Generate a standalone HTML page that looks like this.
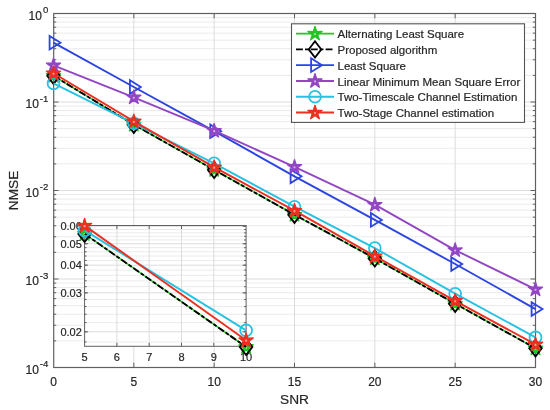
<!DOCTYPE html><html><head><meta charset="utf-8"><style>html,body{margin:0;padding:0;background:#fff;}svg{display:block;}text{font-family:"Liberation Sans",Arial,Helvetica,sans-serif;fill:#262626;stroke:#262626;stroke-width:0.2px;}</style></head><body>
<svg width="550" height="410" viewBox="0 0 550 410">
<rect x="0" y="0" width="550" height="410" fill="#ffffff"/>
<path d="M53.5 75.36H535.5M53.5 59.77H535.5M53.5 48.72H535.5M53.5 40.14H535.5M53.5 33.13H535.5M53.5 27.21H535.5M53.5 22.08H535.5M53.5 17.55H535.5M53.5 163.86H535.5M53.5 148.27H535.5M53.5 137.22H535.5M53.5 128.64H535.5M53.5 121.63H535.5M53.5 115.71H535.5M53.5 110.58H535.5M53.5 106.05H535.5M53.5 252.36H535.5M53.5 236.77H535.5M53.5 225.72H535.5M53.5 217.14H535.5M53.5 210.13H535.5M53.5 204.21H535.5M53.5 199.08H535.5M53.5 194.55H535.5M53.5 340.86H535.5M53.5 325.27H535.5M53.5 314.22H535.5M53.5 305.64H535.5M53.5 298.63H535.5M53.5 292.71H535.5M53.5 287.58H535.5M53.5 283.05H535.5" stroke="#ebebeb" stroke-width="1" fill="none"/>
<path d="M53.5 102H535.5M53.5 190.5H535.5M53.5 279H535.5M133.83 13.5V367.5M214.17 13.5V367.5M294.5 13.5V367.5M374.83 13.5V367.5M455.17 13.5V367.5" stroke="#dcdcdc" stroke-width="1" fill="none"/>
<path d="M53.5 102h5M535.5 102h-5M53.5 190.5h5M535.5 190.5h-5M53.5 279h5M535.5 279h-5M53.5 75.36h2.7M535.5 75.36h-2.7M53.5 59.77h2.7M535.5 59.77h-2.7M53.5 48.72h2.7M535.5 48.72h-2.7M53.5 40.14h2.7M535.5 40.14h-2.7M53.5 33.13h2.7M535.5 33.13h-2.7M53.5 27.21h2.7M535.5 27.21h-2.7M53.5 22.08h2.7M535.5 22.08h-2.7M53.5 17.55h2.7M535.5 17.55h-2.7M53.5 163.86h2.7M535.5 163.86h-2.7M53.5 148.27h2.7M535.5 148.27h-2.7M53.5 137.22h2.7M535.5 137.22h-2.7M53.5 128.64h2.7M535.5 128.64h-2.7M53.5 121.63h2.7M535.5 121.63h-2.7M53.5 115.71h2.7M535.5 115.71h-2.7M53.5 110.58h2.7M535.5 110.58h-2.7M53.5 106.05h2.7M535.5 106.05h-2.7M53.5 252.36h2.7M535.5 252.36h-2.7M53.5 236.77h2.7M535.5 236.77h-2.7M53.5 225.72h2.7M535.5 225.72h-2.7M53.5 217.14h2.7M535.5 217.14h-2.7M53.5 210.13h2.7M535.5 210.13h-2.7M53.5 204.21h2.7M535.5 204.21h-2.7M53.5 199.08h2.7M535.5 199.08h-2.7M53.5 194.55h2.7M535.5 194.55h-2.7M53.5 340.86h2.7M535.5 340.86h-2.7M53.5 325.27h2.7M535.5 325.27h-2.7M53.5 314.22h2.7M535.5 314.22h-2.7M53.5 305.64h2.7M535.5 305.64h-2.7M53.5 298.63h2.7M535.5 298.63h-2.7M53.5 292.71h2.7M535.5 292.71h-2.7M53.5 287.58h2.7M535.5 287.58h-2.7M53.5 283.05h2.7M535.5 283.05h-2.7M133.83 367.5v-4.8M133.83 13.5v4.8M214.17 367.5v-4.8M214.17 13.5v4.8M294.5 367.5v-4.8M294.5 13.5v4.8M374.83 367.5v-4.8M374.83 13.5v4.8M455.17 367.5v-4.8M455.17 13.5v4.8" stroke="#606060" stroke-width="1" fill="none"/>
<rect x="53.7" y="13.5" width="481.8" height="354" fill="none" stroke="#606060" stroke-width="1.2"/>
<text x="48.4" y="19.7" font-size="12" text-anchor="end">10<tspan dx="1.2" dy="-6.4" font-size="9.6">0</tspan></text>
<text x="48.4" y="108.2" font-size="12" text-anchor="end">10<tspan dx="1.0" dy="-6.4" font-size="9.6">-1</tspan></text>
<text x="48.4" y="196.7" font-size="12" text-anchor="end">10<tspan dx="1.0" dy="-6.4" font-size="9.6">-2</tspan></text>
<text x="48.4" y="285.2" font-size="12" text-anchor="end">10<tspan dx="1.0" dy="-6.4" font-size="9.6">-3</tspan></text>
<text x="48.4" y="373.7" font-size="12" text-anchor="end">10<tspan dx="1.0" dy="-6.4" font-size="9.6">-4</tspan></text>
<text x="53.5" y="385.6" font-size="12" text-anchor="middle">0</text>
<text x="133.83" y="385.6" font-size="12" text-anchor="middle">5</text>
<text x="214.17" y="385.6" font-size="12" text-anchor="middle">10</text>
<text x="294.5" y="385.6" font-size="12" text-anchor="middle">15</text>
<text x="374.83" y="385.6" font-size="12" text-anchor="middle">20</text>
<text x="455.17" y="385.6" font-size="12" text-anchor="middle">25</text>
<text x="535.5" y="385.6" font-size="12" text-anchor="middle">30</text>
<text x="294.5" y="403.8" font-size="13.7" text-anchor="middle">SNR</text>
<text transform="translate(17.9,190.4) rotate(-90)" x="0" y="0" font-size="13.7" text-anchor="middle">NMSE</text>
<polyline points="53.5,75.8 133.83,124.7 214.17,169.9 294.5,214.7 374.83,258.4 455.17,303.7 535.5,348.3" fill="none" stroke="#24c424" stroke-width="1.4" stroke-linejoin="round"/><polygon points="53.5,68.6 55.11,73.78 60.54,73.71 56.1,76.85 57.85,81.99 53.5,78.74 49.15,81.99 50.9,76.85 46.46,73.71 51.89,73.78" fill="#24c424" stroke="#24c424" stroke-width="1.4" stroke-linejoin="round"/><circle cx="53.5" cy="76.3" r="1.1" fill="#fff" fill-opacity="0.55"/><polygon points="133.83,117.5 135.44,122.68 140.87,122.61 136.44,125.75 138.18,130.89 133.83,127.64 129.48,130.89 131.23,125.75 126.8,122.61 132.22,122.68" fill="#24c424" stroke="#24c424" stroke-width="1.4" stroke-linejoin="round"/><circle cx="133.83" cy="125.2" r="1.1" fill="#fff" fill-opacity="0.55"/><polygon points="214.17,162.7 215.78,167.88 221.2,167.81 216.77,170.95 218.52,176.09 214.17,172.84 209.82,176.09 211.56,170.95 207.13,167.81 212.56,167.88" fill="#24c424" stroke="#24c424" stroke-width="1.4" stroke-linejoin="round"/><circle cx="214.17" cy="170.4" r="1.1" fill="#fff" fill-opacity="0.55"/><polygon points="294.5,207.5 296.11,212.68 301.54,212.61 297.1,215.75 298.85,220.89 294.5,217.64 290.15,220.89 291.9,215.75 287.46,212.61 292.89,212.68" fill="#24c424" stroke="#24c424" stroke-width="1.4" stroke-linejoin="round"/><circle cx="294.5" cy="215.2" r="1.1" fill="#fff" fill-opacity="0.55"/><polygon points="374.83,251.2 376.44,256.38 381.87,256.31 377.44,259.45 379.18,264.59 374.83,261.34 370.48,264.59 372.23,259.45 367.8,256.31 373.22,256.38" fill="#24c424" stroke="#24c424" stroke-width="1.4" stroke-linejoin="round"/><circle cx="374.83" cy="258.9" r="1.1" fill="#fff" fill-opacity="0.55"/><polygon points="455.17,296.5 456.78,301.68 462.2,301.61 457.77,304.75 459.52,309.89 455.17,306.64 450.82,309.89 452.56,304.75 448.13,301.61 453.56,301.68" fill="#24c424" stroke="#24c424" stroke-width="1.4" stroke-linejoin="round"/><circle cx="455.17" cy="304.2" r="1.1" fill="#fff" fill-opacity="0.55"/><polygon points="535.5,341.1 537.11,346.28 542.54,346.21 538.1,349.35 539.85,354.49 535.5,351.24 531.15,354.49 532.9,349.35 528.46,346.21 533.89,346.28" fill="#24c424" stroke="#24c424" stroke-width="1.4" stroke-linejoin="round"/><circle cx="535.5" cy="348.8" r="1.1" fill="#fff" fill-opacity="0.55"/>
<polyline points="53.5,75.8 133.83,124.7 214.17,169.9 294.5,214.7 374.83,258.4 455.17,303.7 535.5,348.3" fill="none" stroke="#000000" stroke-width="1.9" stroke-linejoin="round" stroke-dasharray="6.9 2.1 3.7 2.1" stroke-dashoffset="14.02"/><polygon points="53.5,67.6 59.8,75.8 53.5,84 47.2,75.8" fill="none" stroke="#000000" stroke-width="1.8"/><polygon points="133.83,116.5 140.13,124.7 133.83,132.9 127.53,124.7" fill="none" stroke="#000000" stroke-width="1.8"/><polygon points="214.17,161.7 220.47,169.9 214.17,178.1 207.87,169.9" fill="none" stroke="#000000" stroke-width="1.8"/><polygon points="294.5,206.5 300.8,214.7 294.5,222.9 288.2,214.7" fill="none" stroke="#000000" stroke-width="1.8"/><polygon points="374.83,250.2 381.13,258.4 374.83,266.6 368.53,258.4" fill="none" stroke="#000000" stroke-width="1.8"/><polygon points="455.17,295.5 461.47,303.7 455.17,311.9 448.87,303.7" fill="none" stroke="#000000" stroke-width="1.8"/><polygon points="535.5,340.1 541.8,348.3 535.5,356.5 529.2,348.3" fill="none" stroke="#000000" stroke-width="1.8"/>
<polyline points="53.5,42.7 133.83,87 214.17,131.2 294.5,176.3 374.83,219.9 455.17,264 535.5,309.1" fill="none" stroke="#2c44e4" stroke-width="1.9" stroke-linejoin="round"/><polygon points="49.6,35.9 60.5,42.7 49.6,49.5" fill="none" stroke="#2c44e4" stroke-width="1.8"/><polygon points="129.93,80.2 140.83,87 129.93,93.8" fill="none" stroke="#2c44e4" stroke-width="1.8"/><polygon points="210.27,124.4 221.17,131.2 210.27,138" fill="none" stroke="#2c44e4" stroke-width="1.8"/><polygon points="290.6,169.5 301.5,176.3 290.6,183.1" fill="none" stroke="#2c44e4" stroke-width="1.8"/><polygon points="370.93,213.1 381.83,219.9 370.93,226.7" fill="none" stroke="#2c44e4" stroke-width="1.8"/><polygon points="451.27,257.2 462.17,264 451.27,270.8" fill="none" stroke="#2c44e4" stroke-width="1.8"/><polygon points="531.6,302.3 542.5,309.1 531.6,315.9" fill="none" stroke="#2c44e4" stroke-width="1.8"/>
<polyline points="53.5,65.3 133.83,97.3 214.17,130.7 294.5,166.8 374.83,204.7 455.17,250.1 535.5,289.3" fill="none" stroke="#9346c4" stroke-width="1.9" stroke-linejoin="round"/><polygon points="53.5,58.1 55.11,63.28 60.54,63.21 56.1,66.35 57.85,71.49 53.5,68.24 49.15,71.49 50.9,66.35 46.46,63.21 51.89,63.28" fill="#9346c4" stroke="#9346c4" stroke-width="1.4" stroke-linejoin="round"/><circle cx="53.5" cy="65.8" r="1.1" fill="#fff" fill-opacity="0.55"/><polygon points="133.83,90.1 135.44,95.28 140.87,95.21 136.44,98.35 138.18,103.49 133.83,100.24 129.48,103.49 131.23,98.35 126.8,95.21 132.22,95.28" fill="#9346c4" stroke="#9346c4" stroke-width="1.4" stroke-linejoin="round"/><circle cx="133.83" cy="97.8" r="1.1" fill="#fff" fill-opacity="0.55"/><polygon points="214.17,123.5 215.78,128.68 221.2,128.61 216.77,131.75 218.52,136.89 214.17,133.64 209.82,136.89 211.56,131.75 207.13,128.61 212.56,128.68" fill="#9346c4" stroke="#9346c4" stroke-width="1.4" stroke-linejoin="round"/><circle cx="214.17" cy="131.2" r="1.1" fill="#fff" fill-opacity="0.55"/><polygon points="294.5,159.6 296.11,164.78 301.54,164.71 297.1,167.85 298.85,172.99 294.5,169.74 290.15,172.99 291.9,167.85 287.46,164.71 292.89,164.78" fill="#9346c4" stroke="#9346c4" stroke-width="1.4" stroke-linejoin="round"/><circle cx="294.5" cy="167.3" r="1.1" fill="#fff" fill-opacity="0.55"/><polygon points="374.83,197.5 376.44,202.68 381.87,202.61 377.44,205.75 379.18,210.89 374.83,207.64 370.48,210.89 372.23,205.75 367.8,202.61 373.22,202.68" fill="#9346c4" stroke="#9346c4" stroke-width="1.4" stroke-linejoin="round"/><circle cx="374.83" cy="205.2" r="1.1" fill="#fff" fill-opacity="0.55"/><polygon points="455.17,242.9 456.78,248.08 462.2,248.01 457.77,251.15 459.52,256.29 455.17,253.04 450.82,256.29 452.56,251.15 448.13,248.01 453.56,248.08" fill="#9346c4" stroke="#9346c4" stroke-width="1.4" stroke-linejoin="round"/><circle cx="455.17" cy="250.6" r="1.1" fill="#fff" fill-opacity="0.55"/><polygon points="535.5,282.1 537.11,287.28 542.54,287.21 538.1,290.35 539.85,295.49 535.5,292.24 531.15,295.49 532.9,290.35 528.46,287.21 533.89,287.28" fill="#9346c4" stroke="#9346c4" stroke-width="1.4" stroke-linejoin="round"/><circle cx="535.5" cy="289.8" r="1.1" fill="#fff" fill-opacity="0.55"/>
<polyline points="53.5,83.4 133.83,123.3 214.17,163.3 294.5,206.7 374.83,248.1 455.17,293.7 535.5,337.4" fill="none" stroke="#26c2e2" stroke-width="1.9" stroke-linejoin="round"/><circle cx="53.5" cy="83.4" r="5.9" fill="none" stroke="#26c2e2" stroke-width="1.8"/><circle cx="133.83" cy="123.3" r="5.9" fill="none" stroke="#26c2e2" stroke-width="1.8"/><circle cx="214.17" cy="163.3" r="5.9" fill="none" stroke="#26c2e2" stroke-width="1.8"/><circle cx="294.5" cy="206.7" r="5.9" fill="none" stroke="#26c2e2" stroke-width="1.8"/><circle cx="374.83" cy="248.1" r="5.9" fill="none" stroke="#26c2e2" stroke-width="1.8"/><circle cx="455.17" cy="293.7" r="5.9" fill="none" stroke="#26c2e2" stroke-width="1.8"/><circle cx="535.5" cy="337.4" r="5.9" fill="none" stroke="#26c2e2" stroke-width="1.8"/>
<polyline points="53.5,73.3 133.83,121.4 214.17,167.2 294.5,210.7 374.83,256.2 455.17,300.8 535.5,344.4" fill="none" stroke="#ec3020" stroke-width="1.9" stroke-linejoin="round"/><polygon points="53.5,66.1 55.11,71.28 60.54,71.21 56.1,74.35 57.85,79.49 53.5,76.24 49.15,79.49 50.9,74.35 46.46,71.21 51.89,71.28" fill="#ec3020" stroke="#ec3020" stroke-width="1.4" stroke-linejoin="round"/><circle cx="53.5" cy="73.8" r="1.1" fill="#fff" fill-opacity="0.55"/><polygon points="133.83,114.2 135.44,119.38 140.87,119.31 136.44,122.45 138.18,127.59 133.83,124.34 129.48,127.59 131.23,122.45 126.8,119.31 132.22,119.38" fill="#ec3020" stroke="#ec3020" stroke-width="1.4" stroke-linejoin="round"/><circle cx="133.83" cy="121.9" r="1.1" fill="#fff" fill-opacity="0.55"/><polygon points="214.17,160 215.78,165.18 221.2,165.11 216.77,168.25 218.52,173.39 214.17,170.14 209.82,173.39 211.56,168.25 207.13,165.11 212.56,165.18" fill="#ec3020" stroke="#ec3020" stroke-width="1.4" stroke-linejoin="round"/><circle cx="214.17" cy="167.7" r="1.1" fill="#fff" fill-opacity="0.55"/><polygon points="294.5,203.5 296.11,208.68 301.54,208.61 297.1,211.75 298.85,216.89 294.5,213.64 290.15,216.89 291.9,211.75 287.46,208.61 292.89,208.68" fill="#ec3020" stroke="#ec3020" stroke-width="1.4" stroke-linejoin="round"/><circle cx="294.5" cy="211.2" r="1.1" fill="#fff" fill-opacity="0.55"/><polygon points="374.83,249 376.44,254.18 381.87,254.11 377.44,257.25 379.18,262.39 374.83,259.14 370.48,262.39 372.23,257.25 367.8,254.11 373.22,254.18" fill="#ec3020" stroke="#ec3020" stroke-width="1.4" stroke-linejoin="round"/><circle cx="374.83" cy="256.7" r="1.1" fill="#fff" fill-opacity="0.55"/><polygon points="455.17,293.6 456.78,298.78 462.2,298.71 457.77,301.85 459.52,306.99 455.17,303.74 450.82,306.99 452.56,301.85 448.13,298.71 453.56,298.78" fill="#ec3020" stroke="#ec3020" stroke-width="1.4" stroke-linejoin="round"/><circle cx="455.17" cy="301.3" r="1.1" fill="#fff" fill-opacity="0.55"/><polygon points="535.5,337.2 537.11,342.38 542.54,342.31 538.1,345.45 539.85,350.59 535.5,347.34 531.15,350.59 532.9,345.45 528.46,342.31 533.89,342.38" fill="#ec3020" stroke="#ec3020" stroke-width="1.4" stroke-linejoin="round"/><circle cx="535.5" cy="344.9" r="1.1" fill="#fff" fill-opacity="0.55"/>
<rect x="84.6" y="225.5" width="161.5" height="120.8" fill="#ffffff"/>
<path d="M84.6 341.93H246.1M84.6 322.64H246.1M84.6 314.28H246.1M84.6 306.58H246.1M84.6 299.46H246.1M84.6 286.63H246.1M84.6 280.8H246.1M84.6 275.31H246.1M84.6 270.11H246.1M84.6 260.49H246.1M84.6 256.02H246.1M84.6 251.75H246.1M84.6 247.66H246.1M84.6 239.97H246.1M84.6 236.34H246.1M84.6 232.84H246.1M84.6 229.47H246.1" stroke="#ebebeb" stroke-width="1" fill="none"/>
<path d="M84.6 331.8H246.1M84.6 292.83H246.1M84.6 265.18H246.1M84.6 243.74H246.1M84.6 226.21H246.1M116.9 225.5V346.3M149.2 225.5V346.3M181.5 225.5V346.3M213.8 225.5V346.3" stroke="#dcdcdc" stroke-width="1" fill="none"/>
<path d="M84.6 331.8h3.5M246.1 331.8h-3.5M84.6 292.83h3.5M246.1 292.83h-3.5M84.6 265.18h3.5M246.1 265.18h-3.5M84.6 243.74h3.5M246.1 243.74h-3.5M84.6 226.21h3.5M246.1 226.21h-3.5M84.6 341.93h2M246.1 341.93h-2M84.6 331.8h2M246.1 331.8h-2M84.6 322.64h2M246.1 322.64h-2M84.6 314.28h2M246.1 314.28h-2M84.6 306.58h2M246.1 306.58h-2M84.6 299.46h2M246.1 299.46h-2M84.6 292.83h2M246.1 292.83h-2M84.6 286.63h2M246.1 286.63h-2M84.6 280.8h2M246.1 280.8h-2M84.6 275.31h2M246.1 275.31h-2M84.6 270.11h2M246.1 270.11h-2M84.6 265.18h2M246.1 265.18h-2M84.6 260.49h2M246.1 260.49h-2M84.6 256.02h2M246.1 256.02h-2M84.6 251.75h2M246.1 251.75h-2M84.6 247.66h2M246.1 247.66h-2M84.6 243.74h2M246.1 243.74h-2M84.6 239.97h2M246.1 239.97h-2M84.6 236.34h2M246.1 236.34h-2M84.6 232.84h2M246.1 232.84h-2M84.6 229.47h2M246.1 229.47h-2M84.6 226.21h2M246.1 226.21h-2M116.9 346.3v-3.5M116.9 225.5v3.5M149.2 346.3v-3.5M149.2 225.5v3.5M181.5 346.3v-3.5M181.5 225.5v3.5M213.8 346.3v-3.5M213.8 225.5v3.5" stroke="#606060" stroke-width="1" fill="none"/>
<rect x="84.6" y="225.5" width="161.5" height="120.8" fill="none" stroke="#606060" stroke-width="1"/>
<text x="81.8" y="335.7" font-size="11" text-anchor="end">0.02</text>
<text x="81.8" y="296.73" font-size="11" text-anchor="end">0.03</text>
<text x="81.8" y="269.08" font-size="11" text-anchor="end">0.04</text>
<text x="81.8" y="247.64" font-size="11" text-anchor="end">0.05</text>
<text x="81.8" y="230.11" font-size="11" text-anchor="end">0.06</text>
<text x="84.6" y="360.6" font-size="11" text-anchor="middle">5</text>
<text x="116.9" y="360.6" font-size="11" text-anchor="middle">6</text>
<text x="149.2" y="360.6" font-size="11" text-anchor="middle">7</text>
<text x="181.5" y="360.6" font-size="11" text-anchor="middle">8</text>
<text x="213.8" y="360.6" font-size="11" text-anchor="middle">9</text>
<text x="246.1" y="360.6" font-size="11" text-anchor="middle">10</text>
<polyline points="84.6,233.88 246.1,346.91" fill="none" stroke="#24c424" stroke-width="1.4" stroke-linejoin="round"/><polygon points="84.6,226.68 86.21,231.87 91.64,231.79 87.2,234.93 88.95,240.07 84.6,236.82 80.25,240.07 82,234.93 77.56,231.79 82.99,231.87" fill="#24c424" stroke="#24c424" stroke-width="1.4" stroke-linejoin="round"/><circle cx="84.6" cy="234.38" r="1.1" fill="#fff" fill-opacity="0.55"/><polygon points="246.1,339.71 247.71,344.89 253.14,344.82 248.7,347.95 250.45,353.09 246.1,349.84 241.75,353.09 243.5,347.95 239.06,344.82 244.49,344.89" fill="#24c424" stroke="#24c424" stroke-width="1.4" stroke-linejoin="round"/><circle cx="246.1" cy="347.41" r="1.1" fill="#fff" fill-opacity="0.55"/>
<polyline points="84.6,233.88 246.1,346.91" fill="none" stroke="#000000" stroke-width="1.9" stroke-linejoin="round" stroke-dasharray="6.9 2.1 3.7 2.1" stroke-dashoffset="14.48"/><polygon points="84.6,225.68 90.9,233.88 84.6,242.08 78.3,233.88" fill="none" stroke="#000000" stroke-width="1.8"/><polygon points="246.1,338.71 252.4,346.91 246.1,355.11 239.8,346.91" fill="none" stroke="#000000" stroke-width="1.8"/>
<polyline points="84.6,230.38 246.1,330.4" fill="none" stroke="#26c2e2" stroke-width="1.9" stroke-linejoin="round"/><circle cx="84.6" cy="230.38" r="5.9" fill="none" stroke="#26c2e2" stroke-width="1.8"/><circle cx="246.1" cy="330.4" r="5.9" fill="none" stroke="#26c2e2" stroke-width="1.8"/>
<polyline points="84.6,225.63 246.1,340.15" fill="none" stroke="#ec3020" stroke-width="1.9" stroke-linejoin="round"/><polygon points="84.6,218.43 86.21,223.61 91.64,223.54 87.2,226.67 88.95,231.82 84.6,228.57 80.25,231.82 82,226.67 77.56,223.54 82.99,223.61" fill="#ec3020" stroke="#ec3020" stroke-width="1.4" stroke-linejoin="round"/><circle cx="84.6" cy="226.13" r="1.1" fill="#fff" fill-opacity="0.55"/><polygon points="246.1,332.95 247.71,338.14 253.14,338.07 248.7,341.2 250.45,346.34 246.1,343.09 241.75,346.34 243.5,341.2 239.06,338.07 244.49,338.14" fill="#ec3020" stroke="#ec3020" stroke-width="1.4" stroke-linejoin="round"/><circle cx="246.1" cy="340.65" r="1.1" fill="#fff" fill-opacity="0.55"/>
<rect x="291.5" y="23.8" width="233" height="98.6" fill="#ffffff" stroke="#555" stroke-width="1.1"/>
<path d="M296 33.6H334" stroke="#24c424" stroke-width="1.9"/>
<polygon points="315,26.4 316.61,31.58 322.04,31.51 317.6,34.65 319.35,39.79 315,36.54 310.65,39.79 312.4,34.65 307.96,31.51 313.39,31.58" fill="#24c424" stroke="#24c424" stroke-width="1.4" stroke-linejoin="round"/><circle cx="315" cy="34.1" r="1.1" fill="#fff" fill-opacity="0.55"/>
<text x="337.5" y="38.2" font-size="11.5" fill="#000" stroke="#000">Alternating Least Square</text>
<path d="M296 49.38H334" stroke="#000000" stroke-width="1.9" stroke-dasharray="6.9 2.1 3.7 2.1"/>
<polygon points="315,41.18 321.3,49.38 315,57.58 308.7,49.38" fill="none" stroke="#000000" stroke-width="1.8"/>
<text x="337.5" y="53.98" font-size="11.5" fill="#000" stroke="#000">Proposed algorithm</text>
<path d="M296 65.16H334" stroke="#2c44e4" stroke-width="1.9"/>
<polygon points="311.1,58.36 322,65.16 311.1,71.96" fill="none" stroke="#2c44e4" stroke-width="1.8"/>
<text x="337.5" y="69.76" font-size="11.5" fill="#000" stroke="#000">Least Square</text>
<path d="M296 80.94H334" stroke="#9346c4" stroke-width="1.9"/>
<polygon points="315,73.74 316.61,78.92 322.04,78.85 317.6,81.99 319.35,87.13 315,83.88 310.65,87.13 312.4,81.99 307.96,78.85 313.39,78.92" fill="#9346c4" stroke="#9346c4" stroke-width="1.4" stroke-linejoin="round"/><circle cx="315" cy="81.44" r="1.1" fill="#fff" fill-opacity="0.55"/>
<text x="337.5" y="85.54" font-size="11.5" fill="#000" stroke="#000">Linear Minimum Mean Square Error</text>
<path d="M296 96.72H334" stroke="#26c2e2" stroke-width="1.9"/>
<circle cx="315" cy="96.72" r="5.9" fill="none" stroke="#26c2e2" stroke-width="1.8"/>
<text x="337.5" y="101.32" font-size="11.5" fill="#000" stroke="#000">Two-Timescale Channel Estimation</text>
<path d="M296 112.5H334" stroke="#ec3020" stroke-width="1.9"/>
<polygon points="315,105.3 316.61,110.48 322.04,110.41 317.6,113.55 319.35,118.69 315,115.44 310.65,118.69 312.4,113.55 307.96,110.41 313.39,110.48" fill="#ec3020" stroke="#ec3020" stroke-width="1.4" stroke-linejoin="round"/><circle cx="315" cy="113" r="1.1" fill="#fff" fill-opacity="0.55"/>
<text x="337.5" y="117.1" font-size="11.5" fill="#000" stroke="#000">Two-Stage Channel estimation</text>
</svg></body></html>
